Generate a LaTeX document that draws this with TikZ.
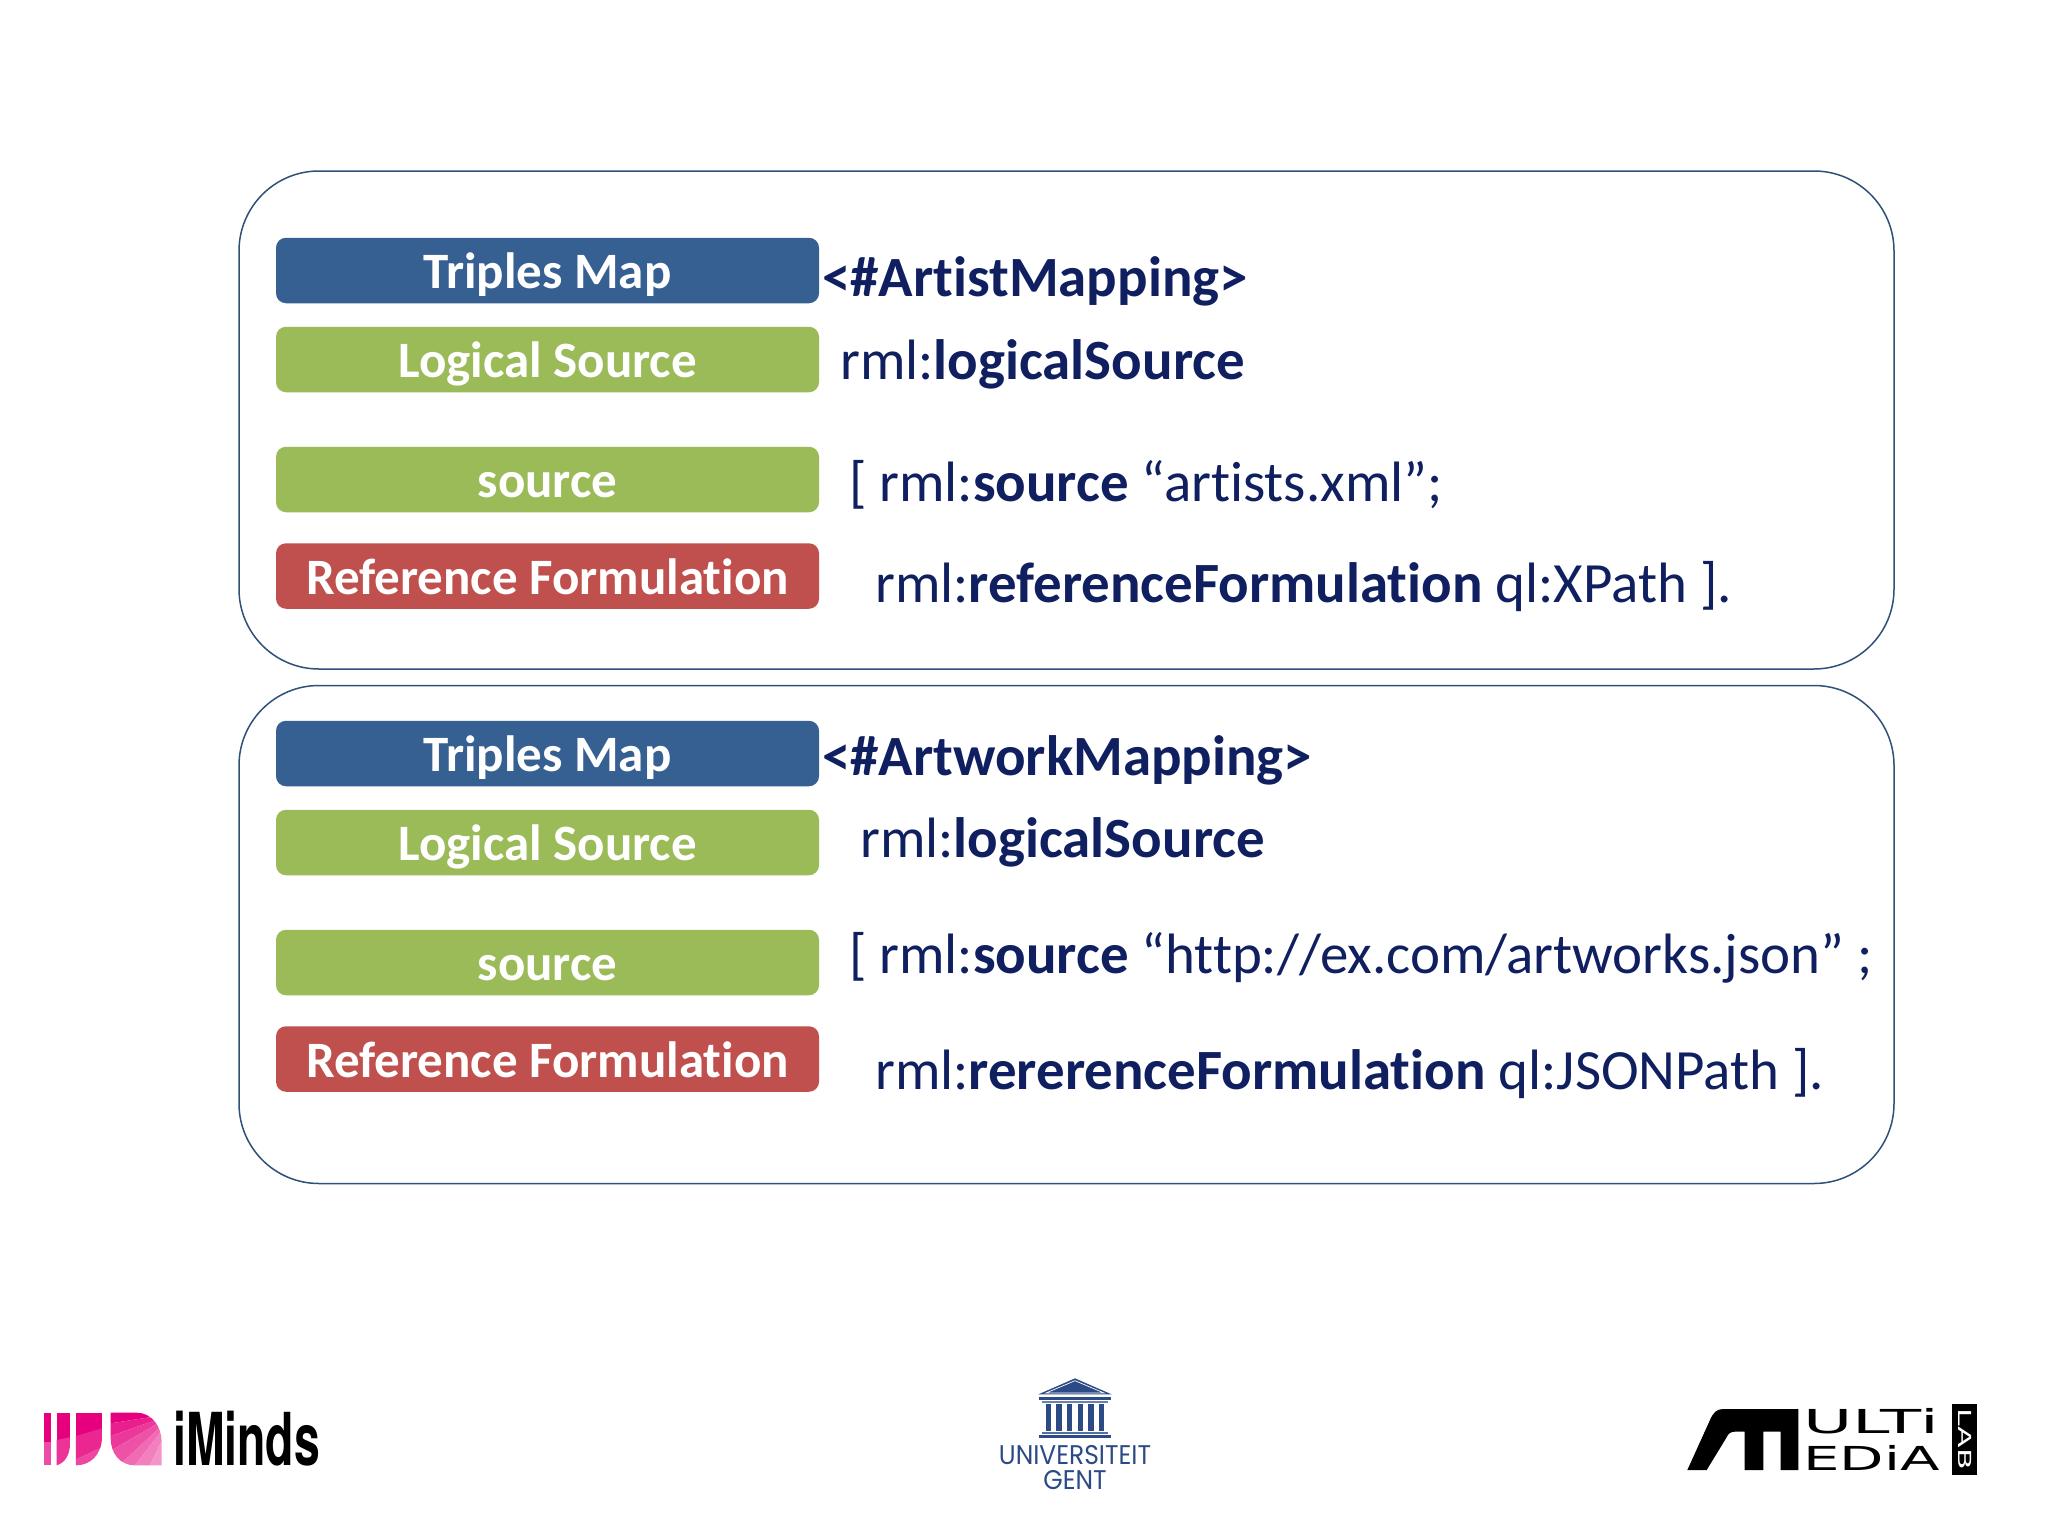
\documentclass[tikz,border=0pt]{standalone}
\usepackage{graphicx}
\usepackage{fontspec}
\setmainfont[Ligatures=NoCommon]{Carlito}
\newfontfamily\heros{TeX Gyre Heros}
\newfontfamily\pop{Poppins}
\newfontfamily\dejav{DejaVu Sans}
\definecolor{navy}{HTML}{0F1F5F}
\definecolor{tmblue}{HTML}{376092}
\definecolor{lsgreen}{HTML}{9BBB59}
\definecolor{rfred}{HTML}{C0504D}
\definecolor{framec}{HTML}{2F5078}
\definecolor{ugblue}{HTML}{2C4A85}
\definecolor{pk}{HTML}{E6007E}
\tikzset{
  frame/.style={draw=framec,line width=1.5pt,rounded corners=80pt,minimum width=1655pt,minimum height=498pt,inner sep=0pt},
  lab/.style={rounded corners=10pt,minimum width=543pt,minimum height=65.5pt,inner sep=0pt,text=white,text height=40pt,text depth=4pt,font=\fontsize{51}{51}\selectfont\bfseries},
  code/.style={anchor=base west,inner sep=0pt,text=navy,font=\fontsize{56.9}{56.9}\selectfont},
}
\begin{document}
\begin{tikzpicture}[x=1pt,y=-1pt]
\useasboundingbox (0,0) rectangle (2048,1536);
\fill[white] (0,0) rectangle (2048,1536);
\node[frame] (f1) at (1066.5,420) {};
\node[frame] (f2) at (1066.5,934.5) {};
% first group
\node[lab,fill=tmblue] (a1) at (547.5,270.5) {Triples Map};
\node[lab,fill=lsgreen] (a2) at (547.5,359.5) {Logical Source};
\node[lab,fill=lsgreen] (a3) at (547.5,479.5) {source};
\node[lab,fill=rfred] (a4) at (547.5,576) {Reference Formulation};
\node[code] (t1) at (822,296.5) {\textbf{<\#ArtistMapping>}};
\node[code] (t2) at (840,379) {rml:\textbf{logicalSource}};
\node[code] (t3) at (849,501) {[ rml:\textbf{source} “artists.xml”;};
\node[code] (t4) at (875,602) {rml:\textbf{referenceFormulation} ql:XPath ].};
% second group
\node[lab,fill=tmblue] (b1) at (547.5,753.5) {Triples Map};
\node[lab,fill=lsgreen] (b2) at (547.5,842.5) {Logical Source};
\node[lab,fill=lsgreen] (b3) at (547.5,962.5) {source};
\node[lab,fill=rfred] (b4) at (547.5,1059) {Reference Formulation};
\node[code] (u1) at (822,775.5) {\textbf{<\#ArtworkMapping>}};
\node[code] (u2) at (860,857) {rml:\textbf{logicalSource}};
\node[code] (u3) at (849,973) {[ rml:\textbf{source} “http://ex.com/artworks.json” ;};
\node[code] (u4) at (875,1089) {rml:\textbf{rererenceFormulation} ql:JSONPath ].};
% iMinds logo
\begin{scope}[shift={(0,1360)},x=0.33333pt,y=-0.33333pt]
  \fill[pk] (132,158) rectangle (152,245);
  \fill[pk!70!white] (132,245) rectangle (152,316);
  \begin{scope}
    \clip (170,158) -- (210,158) -- (210,250) .. controls (210,285) and (195,308) .. (170,316) -- cycle;
    \fill[pk] (170,158) rectangle (210,240);
    \fill[pk!80!white] (170,240) -- (210,232) -- (210,316) -- (170,316) -- cycle;
  \end{scope}
  \begin{scope}
    \clip (228,158) -- (306,158) -- (306,230) .. controls (306,285) and (270,316) .. (228,316) -- cycle;
    \fill[pk] (228,158) rectangle (306,230);
    \fill[pk!85!white] (228,228) -- (306,205) -- (306,262) -- (228,298) -- cycle;
    \fill[pk!72!white] (228,298) -- (306,262) -- (306,316) -- (228,316) -- cycle;
  \end{scope}
  \begin{scope}
    \clip (332,158) -- (410,158) .. controls (455,158) and (485,200) .. (485,245) -- (485,316) -- (405,316) .. controls (360,316) and (332,280) .. (332,235) -- cycle;
    \fill[pk] (525,160) -- (525,100) -- (235,100) -- (235,205) -- cycle;
    \fill[pk!88!white] (525,160) -- (235,205) -- (235,262) -- cycle;
    \fill[pk!78!white] (525,160) -- (235,262) -- (255,317) -- cycle;
    \fill[pk!68!white] (525,160) -- (255,317) -- (300,370) -- cycle;
    \fill[pk!58!white] (525,160) -- (300,370) -- (345,394) -- cycle;
    \fill[pk!50!white] (525,160) -- (345,394) -- (412,394) -- cycle;
    \fill[pk!42!white] (525,160) -- (412,394) -- (560,394) -- cycle;
  \end{scope}
\end{scope}
\node[anchor=base west,inner sep=0pt,xscale=0.635,font=\heros\fontsize{73}{73}\selectfont\bfseries] (iminds) at (173,1465) {iMinds};
% Universiteit Gent logo
\begin{scope}[shift={(960,1360)},x=0.33333pt,y=-0.33333pt]
  \fill[ugblue] (235,103) -- (345,55) -- (455,103) -- cycle;
  \draw[white,line width=0.7pt] (258,99) -- (345,62) -- (432,99) -- cycle;
  \fill[ugblue] (238,111) rectangle (452,120);
  \fill[ugblue!70!white] (245,123) rectangle (445,129);
  \foreach \c in {265,297,329,361,393,425}
    \fill[ugblue] (\c-8,133) rectangle (\c+8,213);
  \fill[ugblue!80!white] (245,216) rectangle (445,222);
  \fill[ugblue] (237,226) rectangle (453,234);
\end{scope}
\node[inner sep=0pt,anchor=base,text=ugblue,xscale=0.925,font=\pop\fontsize{27}{27}\selectfont] (ug1) at (1075,1464) {UNIVERSITEIT};
\node[inner sep=0pt,anchor=base,text=ugblue,xscale=0.925,font=\pop\fontsize{27}{27}\selectfont] (ug2) at (1075,1489) {GENT};
% Multimedia logo
\begin{scope}[shift={(1660,1380)},x=0.33333pt,y=-0.33333pt]
  \fill[black] (82,270) -- (150,120) .. controls (160,97) and (170,87) .. (190,87) -- (415,87) -- (415,270) -- (362,270) -- (362,155) -- (310,155) -- (310,270) -- (254,270) -- (254,155) -- (225,155) .. controls (212,155) and (205,160) .. (198,175) -- (140,270) -- cycle;
  \fill[black] (877,72) rectangle (950,285);
\end{scope}
\node[inner sep=0pt,anchor=base west,xscale=2.04,font=\dejav\fontsize{33}{33}\selectfont] (mm1) at (1803,1433) {ULTi};
\node[inner sep=0pt,anchor=base west,xscale=1.75,font=\dejav\fontsize{33}{33}\selectfont] (mm2) at (1803,1470) {EDiA};
\node[inner sep=0pt,rotate=-90,text=white,font=\dejav\fontsize{18}{18}\selectfont] (mm3) at (1965,1439) {\scalebox{1.75}[1]{LAB}};
\end{tikzpicture}
\end{document}
